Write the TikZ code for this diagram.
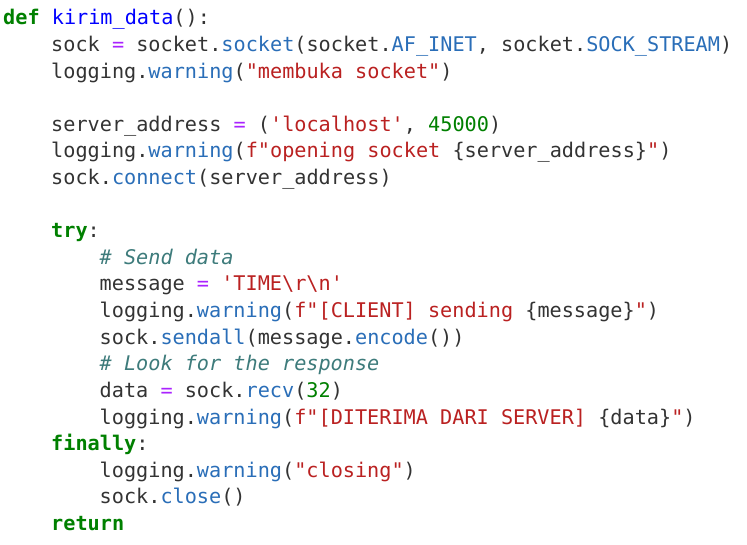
\documentclass[tikz,border=0pt]{standalone}
\usepackage{fontspec}
\newfontfamily\codefont{DejaVu Sans Mono}
\usepackage{xcolor}
\definecolor{txt}{HTML}{333333}
\definecolor{kw}{HTML}{008000}
\definecolor{fn}{HTML}{0000FF}
\definecolor{op}{HTML}{AA22FF}
\definecolor{meth}{HTML}{2A6EB8}
\definecolor{str}{HTML}{BA2121}
\definecolor{cmt}{HTML}{3D7B7B}
\newcommand\K[1]{\textcolor{kw}{\bfseries #1}}
\newcommand\F[1]{\textcolor{fn}{#1}}
\newcommand\Op[1]{\textcolor{op}{#1}}
\newcommand\M[1]{\textcolor{meth}{#1}}
\newcommand\Sx[1]{\textcolor{str}{#1}}
\newcommand\Nm[1]{\textcolor{kw}{#1}}
\newcommand\Cm[1]{\textcolor{cmt}{\itshape #1}}
\newcommand\us{\_}
\begin{document}
\begin{tikzpicture}[x=1pt,y=1pt,
  code/.style={anchor=base west,inner sep=0pt,font=\codefont\fontsize{20.2}{26}\selectfont,text=txt}]
\useasboundingbox[fill=white] (0,0) rectangle (747,-545);
\def\xa{51}\def\xb{99.5}
\node[code] (l1) at (3,-25) {\K{def} \F{kirim\us data}():};
\node[code] (l2) at (\xa,-51.6) {sock \Op{=} socket.\M{socket}(socket.\M{AF\us INET}, socket.\M{SOCK\us STREAM})};
\node[code] (l3) at (\xa,-78.2) {logging.\M{warning}(\Sx{"membuka socket"})};
\node[code] (l5) at (\xa,-131.4) {server\us address \Op{=} (\Sx{'localhost'}, \Nm{45000})};
\node[code] (l6) at (\xa,-158) {logging.\M{warning}(\Sx{f"opening socket }\{server\us address\}\Sx{"})};
\node[code] (l7) at (\xa,-184.6) {sock.\M{connect}(server\us address)};
\node[code] (l9) at (\xa,-237.8) {\K{try}:};
\node[code] (l10) at (\xb,-264.4) {\Cm{\# Send data}};
\node[code] (l11) at (\xb,-291) {message \Op{=} \Sx{'TIME\textbackslash r\textbackslash n'}};
\node[code] (l12) at (\xb,-317.6) {logging.\M{warning}(\Sx{f"[CLIENT] sending }\{message\}\Sx{"})};
\node[code] (l13) at (\xb,-344.2) {sock.\M{sendall}(message.\M{encode}())};
\node[code] (l14) at (\xb,-370.8) {\Cm{\# Look for the response}};
\node[code] (l15) at (\xb,-397.4) {data \Op{=} sock.\M{recv}(\Nm{32})};
\node[code] (l16) at (\xb,-424) {logging.\M{warning}(\Sx{f"[DITERIMA DARI SERVER] }\{data\}\Sx{"})};
\node[code] (l17) at (\xa,-450.6) {\K{finally}:};
\node[code] (l18) at (\xb,-477.2) {logging.\M{warning}(\Sx{"closing"})};
\node[code] (l19) at (\xb,-503.8) {sock.\M{close}()};
\node[code] (l20) at (\xa,-530.4) {\K{return}};
\end{tikzpicture}
\end{document}
